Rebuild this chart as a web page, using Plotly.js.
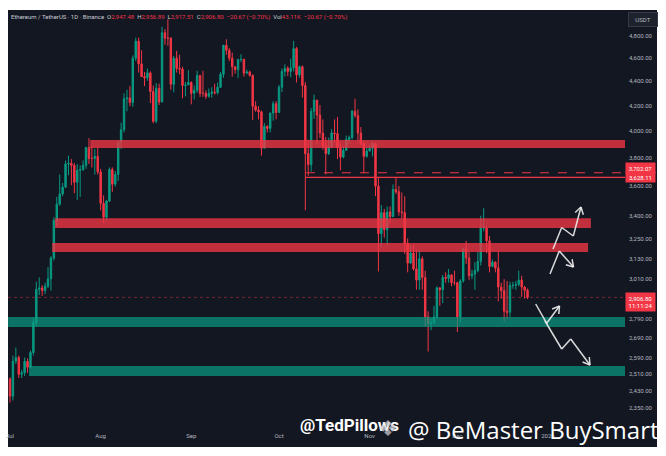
<!DOCTYPE html>
<html><head><meta charset="utf-8">
<script src="https://cdn.plot.ly/plotly-3.0.1.min.js"></script>
<style>
html,body{margin:0;padding:0;background:#ffffff;width:666px;height:456px;overflow:hidden;}
#bgpanel{position:absolute;left:8px;top:10px;width:649px;height:437px;background:#131722;}
#chart{position:absolute;left:0;top:0;width:666px;height:456px;}
</style></head>
<body>
<div id="bgpanel"></div>
<div id="chart"></div>
<script>
// ETH/USDT daily candles, 2025-07-01 .. 2025-12-25
const startDate = '2025-07-01';
const open = [
2486,2405,2572,2590,2508,2515,2571,2542,2615,2770,2952,2960,2945,2970,3012,3135,3370,3476,3545,3592,3755,3760,3745,3625,3710,3715,3745,3875,3795,3795,3810,
3698,3482,3390,3497,3715,3612,3680,3912,4010,4255,4262,4225,4600,4752,4550,4440,4430,4472,4315,4075,4340,4230,4830,4780,4780,4375,4600,4510,4505,4365,4370,
4390,4300,4325,4450,4300,4300,4275,4300,4310,4305,4350,4460,4715,4670,4600,4525,4500,4590,4590,4470,4480,4450,4195,4165,4150,3870,4035,4020,4140,4215,
4145,4350,4485,4510,4485,4515,4685,4455,4525,4365,3830,3750,4155,4245,4125,3985,3890,3830,3885,3985,3980,3875,3805,3855,3935,3950,4155,4120,3985,3905,3810,
3850,3870,3905,3600,3285,3420,3310,3425,3395,3575,3560,3425,3420,3225,3105,3165,3070,3005,3130,3020,2800,2765,2770,2800,2960,2950,3020,3015,3035,2990,
2990,2800,3000,3190,3135,3030,3040,3060,3115,3320,3320,3240,3085,3110,3075,2965,2945,2830,2825,2975,2975,2980,3005,2965,2947.48];
const high = [
2493,2600,2640,2600,2530,2590,2585,2625,2795,2995,3020,2975,2990,3080,3145,3390,3525,3680,3620,3780,3815,3790,3760,3755,3745,3780,3880,3945,3885,3865,3875,
3720,3535,3505,3730,3730,3705,3925,4065,4300,4330,4360,4625,4785,4785,4670,4480,4510,4485,4365,4385,4380,4885,4865,4955,4790,4620,4665,4630,4525,4395,4495,
4400,4365,4490,4455,4490,4325,4340,4350,4380,4390,4480,4720,4770,4690,4650,4525,4590,4635,4595,4500,4490,4460,4235,4195,4160,4060,4045,4145,4235,4235,
4370,4510,4545,4530,4595,4755,4700,4535,4535,4395,3935,4180,4290,4245,4205,4090,3955,3950,4015,4090,4110,3905,3885,3965,3965,4165,4255,4170,4030,3915,3880,
3895,3920,3910,3655,3470,3445,3460,3460,3610,3655,3600,3555,3530,3255,3215,3215,3185,3180,3145,3060,2830,2790,2860,2970,2965,3035,3050,3070,3040,3060,
2995,3010,3200,3240,3175,3065,3110,3170,3400,3450,3330,3270,3125,3115,3175,2990,3010,3000,2995,2995,3000,3060,3030,2970,2956.89];
const low = [
2375,2385,2558,2490,2490,2500,2515,2540,2600,2750,2920,2915,2925,2960,2945,3120,3330,3465,3530,3585,3675,3605,3550,3505,3525,3705,3720,3755,3730,3680,3680,
3435,3355,3370,3490,3560,3595,3635,3865,3990,4155,4195,4190,4575,4475,4440,4360,4405,4220,4060,4060,4205,4225,4720,4710,4330,4310,4475,4460,4260,4275,4370,
4210,4250,4305,4270,4270,4255,4265,4265,4290,4290,4345,4430,4630,4575,4440,4465,4430,4565,4440,4460,4440,4085,4150,4090,3815,3870,3990,3990,4080,4090,
4140,4310,4440,4445,4435,4485,4390,4430,4265,3435,3670,3700,4095,3900,3945,3860,3680,3820,3870,3915,3790,3710,3795,3850,3900,3935,4105,3925,3890,3690,3800,
3845,3810,3530,3055,3200,3260,3210,3350,3390,3545,3400,3380,3160,3050,3100,3060,2950,2950,2950,2750,2620,2730,2760,2790,2860,2875,2990,2990,2970,2975,
2720,2770,2990,3100,3005,3010,2950,3050,3090,3300,3165,3050,3080,3050,2885,2900,2775,2790,2800,2955,2950,2970,2910,2900,2897.51];
const close = [
2405,2572,2590,2508,2515,2571,2542,2615,2770,2952,2960,2945,2970,3012,3135,3370,3476,3545,3592,3755,3760,3745,3625,3710,3715,3745,3875,3795,3795,3810,3698,
3482,3390,3497,3715,3612,3680,3912,4010,4255,4262,4225,4600,4752,4550,4440,4430,4472,4315,4075,4340,4230,4830,4780,4780,4375,4600,4510,4505,4365,4370,4390,
4300,4325,4450,4300,4300,4275,4300,4310,4305,4350,4460,4715,4670,4600,4525,4500,4590,4590,4470,4480,4450,4195,4165,4150,3870,4035,4020,4140,4215,4145,
4350,4485,4510,4485,4515,4685,4455,4525,4365,3830,3750,4155,4245,4125,3985,3890,3830,3885,3985,3980,3875,3805,3855,3935,3950,4155,4120,3985,3905,3810,3850,
3870,3905,3600,3285,3420,3310,3425,3395,3575,3560,3425,3420,3225,3105,3165,3070,3005,3130,3020,2800,2765,2770,2800,2960,2950,3020,3015,3035,2990,2990,
2800,3000,3190,3135,3030,3040,3060,3115,3320,3320,3240,3085,3110,3075,2965,2945,2830,2825,2975,2975,2980,3005,2965,2947,2906.80];

// price-axis ticks
const priceTicks = [4800,4600,4400,4200,4000,3800,3600,3400,3250,3130,3010,2790,2690,2590,2510,2430,2350];
const priceTickText = ['4,800.00','4,600.00','4,400.00','4,200.00','4,000.00','3,800.00','3,600.00','3,400.00','3,250.00','3,130.00','3,010.00','2,790.00','2,690.00','2,590.00','2,510.00','2,430.00','2,350.00'];
const monthTicks = ['2025-07-01','2025-08-01','2025-09-01','2025-10-01','2025-11-01','2025-12-01','2026-01-01'];
const monthText = ['Jul','Aug','Sep','Oct','Nov','Dec','2026'];

// drawn zones [start, end, low, high]
const redZoneStart = ['2025-07-28 10:00','2025-07-16 10:00','2025-07-15 10:00'];
const redZoneEnd   = ['2026-01-27 08:00','2026-01-15 16:00','2026-01-14 17:00'];
const redZoneLow   = [3872,3320,3171];
const redZoneHigh  = [3932,3384,3226];
const greenZoneStart = ['2025-06-30 08:00','2025-07-07 12:00'];
const greenZoneEnd   = ['2026-01-27 08:00','2026-01-27 08:00'];
const greenZoneLow   = [2746,2500];
const greenZoneHigh  = [2799,2548];
const rayStart = '2025-10-10 05:00';
const rayLevels = [3692,3660];
const rayLabels = ['3,702.07','3,628.11'];
const lastPrice = 2906.80;

const dates = [];
{
  const t0 = Date.parse(startDate + 'T00:00:00Z');
  for (let i = 0; i < close.length; i++) dates.push(new Date(t0 + i*86400000).toISOString().slice(0,10));
}

const UP = '#089981', DN = '#f23645';
const YMIN = 3.35207, YMAX = 3.70291;
const yp = v => (Math.log10(v) - YMIN) / (YMAX - YMIN);   // price -> paper fraction on the log axis

const trace = {
  type:'candlestick', x:dates, open:open, high:high, low:low, close:close,
  increasing:{line:{color:UP,width:1}, fillcolor:UP},
  decreasing:{line:{color:DN,width:1}, fillcolor:DN},
  whiskerwidth:0, hoverinfo:'skip', showlegend:false
};

const shapes = [];
shapes.push({type:'line', xref:'paper', x0:0, x1:1, yref:'paper', y0:yp(lastPrice), y1:yp(lastPrice),
  line:{color:'rgba(242,54,69,0.45)', width:1, dash:'dot'}, layer:'below'});
for (let i=0;i<redZoneLow.length;i++){
  shapes.push({type:'rect', xref:'x', yref:'paper', x0:redZoneStart[i], x1:redZoneEnd[i], y0:yp(redZoneLow[i]), y1:yp(redZoneHigh[i]),
    fillcolor:DN, opacity:0.78, line:{width:0}, layer:'above'});
}
for (let i=0;i<greenZoneLow.length;i++){
  shapes.push({type:'rect', xref:'x', yref:'paper', x0:greenZoneStart[i], x1:greenZoneEnd[i], y0:yp(greenZoneLow[i]), y1:yp(greenZoneHigh[i]),
    fillcolor:UP, opacity:0.72, line:{width:0}, layer:'above'});
}
shapes.push({type:'line', xref:'x', yref:'paper', x0:rayStart, x1:'2026-01-27 08:00', y0:yp(rayLevels[0]), y1:yp(rayLevels[0]),
  line:{color:DN, width:1, dash:'dash'}});
shapes.push({type:'line', xref:'x', yref:'paper', x0:rayStart, x1:'2026-01-27 08:00', y0:yp(rayLevels[1]), y1:yp(rayLevels[1]),
  line:{color:DN, width:1.2}});

// hand-drawn arrows (page pixel coords -> paper)
const PL=8, PT=10, PW=617, PH=421;
const px2paper = (x,y)=>[(x-PL)/PW, 1-(y-PT)/PH];
function polyline(pts, head){
  const c='rgba(236,236,236,0.92)';
  for (let i=0;i<pts.length-1;i++){
    const a=px2paper(...pts[i]), b=px2paper(...pts[i+1]);
    shapes.push({type:'line', xref:'paper', yref:'paper', x0:a[0], y0:a[1], x1:b[0], y1:b[1], line:{color:c,width:1.5}});
  }
  if (head){
    const P=pts[pts.length-2], Q=pts[pts.length-1];
    const dx=Q[0]-P[0], dy=Q[1]-P[1], len=Math.hypot(dx,dy);
    const ux=dx/len, uy=dy/len, L=8, ang=0.55;
    [ang,-ang].forEach(t=>{
      const rx=ux*Math.cos(t)-uy*Math.sin(t), ry=ux*Math.sin(t)+uy*Math.cos(t);
      const a=px2paper(Q[0]-L*rx, Q[1]-L*ry), b=px2paper(Q[0],Q[1]);
      shapes.push({type:'line', xref:'paper', yref:'paper', x0:a[0], y0:a[1], x1:b[0], y1:b[1], line:{color:c,width:1.5}});
    });
  }
}
polyline([[553,249],[561.7,227.5],[573.3,236],[581,207]], true);
polyline([[550,274],[559.3,251],[573.5,267]], true);
polyline([[535.7,304],[546.7,323.3],[559.5,306]], true);
polyline([[545,321],[561.7,349],[570.7,339],[590,365]], true);

const annotations = [];
const up = (y)=>1-(y-PT)/PH;
annotations.push({xref:'paper', yref:'paper', x:0.002, y:up(17), xanchor:'left', yanchor:'middle', showarrow:false,
  font:{family:'Roboto, sans-serif', size:6, color:'#c9ccd4'},
  text:'Ethereum / TetherUS · 1D · Binance  O<span style="color:#f23645">2,947.48</span>  H<span style="color:#f23645">2,956.89</span>  L<span style="color:#f23645">2,917.51</span>  C<span style="color:#f23645">2,906.80</span>  <span style="color:#f23645">−20.67 (−0.70%)</span>  Vol<span style="color:#f23645">43.11K</span>  <span style="color:#f23645">−20.67 (−0.70%)</span>'});
annotations.push({xref:'paper', yref:'paper', x:1+3/PW, y:up(19.5), xanchor:'left', yanchor:'middle', showarrow:false,
  text:'USDT', font:{family:'Roboto, sans-serif', size:6, color:'#b2b5be'}, bgcolor:'#1e222d', bordercolor:'#363a45', borderwidth:1, borderpad:3, width:22});
annotations.push({xref:'paper', yref:'paper', x:1, y:up(168), xanchor:'left', yanchor:'middle', showarrow:false,
  text:rayLabels[0], font:{family:'Roboto, sans-serif', size:6, color:'#ffffff'}, bgcolor:DN, borderpad:1.5, width:26});
annotations.push({xref:'paper', yref:'paper', x:1, y:up(177), xanchor:'left', yanchor:'middle', showarrow:false,
  text:rayLabels[1], font:{family:'Roboto, sans-serif', size:6, color:'#ffffff'}, bgcolor:DN, borderpad:1.5, width:26});
annotations.push({xref:'paper', yref:'paper', x:1, y:yp(lastPrice)-0.004/(YMAX-YMIN), xanchor:'left', yanchor:'middle', showarrow:false,
  text:'2,906.80<br>11:11:24', font:{family:'Roboto, sans-serif', size:6, color:'#ffffff'}, bgcolor:DN, borderpad:1.5, width:26});
annotations.push({xref:'paper', yref:'paper', x:(350-PL)/PW, y:up(425), xanchor:'center', yanchor:'middle', showarrow:false,
  text:'<b>@TedPillows</b>', font:{family:'Roboto, sans-serif', size:17, color:'#ffffff'}});
annotations.push({xref:'paper', yref:'paper', x:(388-PL)/PW, y:up(428), xanchor:'center', yanchor:'middle', showarrow:false,
  text:'❖', font:{family:'DejaVu Sans', size:22, color:'rgba(200,200,205,0.75)'}});
annotations.push({xref:'paper', yref:'paper', x:(406-PL)/PW, y:up(429), xanchor:'left', yanchor:'middle', showarrow:false,
  text:'@ BeMaster BuySmart', font:{family:'Open Sans, sans-serif', size:24, color:'#ffffff'}});

const layout = {
  width:666, height:456,
  margin:{l:PL, r:666-PL-PW, t:PT, b:456-PT-PH, pad:0},
  paper_bgcolor:'rgba(0,0,0,0)', plot_bgcolor:'rgba(0,0,0,0)',
  showlegend:false, hovermode:false, dragmode:false,
  xaxis:{type:'date', range:['2025-06-30 07:35','2026-01-27 08:00'], rangeslider:{visible:false},
    tickmode:'array', tickvals:monthTicks, ticktext:monthText, showgrid:false, zeroline:false, showline:false,
    ticks:'', tickfont:{family:'Roboto, sans-serif', size:6, color:'#b2b5be'}, fixedrange:true},
  yaxis:{type:'log', side:'right', range:[YMIN,YMAX], tickmode:'array', tickvals:priceTicks, ticktext:priceTickText,
    showgrid:false, zeroline:false, showline:false, ticks:'', tickfont:{family:'Roboto, sans-serif', size:6, color:'#b2b5be'},
    ticklabelstandoff:3, fixedrange:true},
  shapes:shapes, annotations:annotations,
  font:{family:'Roboto, sans-serif'}
};
Plotly.newPlot('chart',[trace],layout,{displayModeBar:false, staticPlot:true});
</script>
</body></html>
